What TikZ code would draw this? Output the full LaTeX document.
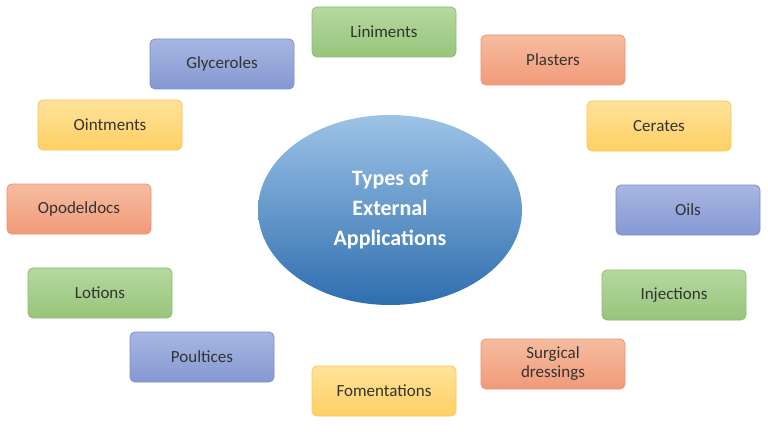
\documentclass[tikz,border=0pt]{standalone}
\usepackage{fontspec}
\setmainfont{Carlito}
\usetikzlibrary{shapes.geometric}
\definecolor{gT}{HTML}{B5D9A0}\definecolor{gB}{HTML}{97C47A}\definecolor{gD}{HTML}{8DBB70}
\definecolor{oT}{HTML}{F6BCA0}\definecolor{oB}{HTML}{F19A78}\definecolor{oD}{HTML}{E99373}
\definecolor{yT}{HTML}{FFE29A}\definecolor{yB}{HTML}{FFD064}\definecolor{yD}{HTML}{F5C65A}
\definecolor{bT}{HTML}{A7B6E2}\definecolor{bB}{HTML}{8598D2}\definecolor{bD}{HTML}{7E90C8}
\begin{document}
\begin{tikzpicture}[x=1pt,y=-1pt,
 box/.style={rounded corners=5pt,minimum width=144pt,minimum height=50pt,font=\fontsize{17}{19}\selectfont,text=black!80,align=center,line width=0.8pt},
 gbox/.style={box,draw=gD,top color=gT,bottom color=gB},
 obox/.style={box,draw=oD,top color=oT,bottom color=oB},
 ybox/.style={box,draw=yD,top color=yT,bottom color=yB},
 bbox/.style={box,draw=bD,top color=bT,bottom color=bB}]
\useasboundingbox[fill=white] (0,0) rectangle (768,433);
\node[ellipse,minimum width=264pt,minimum height=190pt,top color=blue!20!cyan!30!white!60!blue!40,bottom color=blue!60!black!70!cyan,shading angle=0,draw=none,
 text=white,font=\bfseries\fontsize{22}{30}\selectfont,align=center,
 top color={rgb,255:red,157;green,195;blue,230},bottom color={rgb,255:red,46;green,110;blue,175}] (c) at (390,210) {Types of\\External\\Applications};
\node[gbox] (lin) at (384,32) {Liniments};
\node[obox] (pla) at (553,60) {Plasters};
\node[bbox] (gly) at (222,64) {Glyceroles};
\node[ybox] (oin) at (110,125) {Ointments};
\node[ybox] (cer) at (659,126) {Cerates};
\node[obox] (opo) at (79,209) {Opodeldocs};
\node[bbox] (oil) at (688,210) {Oils};
\node[gbox] (lot) at (100,293) {Lotions};
\node[gbox] (inj) at (674,295) {Injections};
\node[bbox] (pou) at (202,357) {Poultices};
\node[obox] (sur) at (553,364) {Surgical\\dressings};
\node[ybox] (fom) at (384,391) {Fomentations};
\end{tikzpicture}
\end{document}
